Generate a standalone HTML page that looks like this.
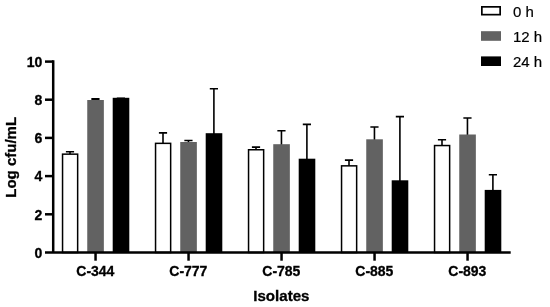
<!DOCTYPE html>
<html><head><meta charset="utf-8"><title>Isolates</title>
<style>html,body{margin:0;padding:0;background:#fff}svg{display:block}text{font-family:"Liberation Sans",Arial,sans-serif;fill:#000}</style></head><body>
<svg width="550" height="307" viewBox="0 0 550 307">
<rect width="550" height="307" fill="#fff"/>
<path d="M65.90 151.75H74.10M70.00 151.75V154.40" stroke="#000" stroke-width="1.6" fill="none"/>
<rect x="62.55" y="154.15" width="15.10" height="98.35" fill="#fff" stroke="#000" stroke-width="1.5"/>
<path d="M91.35 99.00H99.55M95.45 99.00V101.00" stroke="#000" stroke-width="2.0" fill="none"/>
<rect x="87.25" y="100.00" width="16.60" height="152.50" fill="#626262"/>
<path d="M116.80 98.25H125.00M120.90 98.25V98.80" stroke="#000" stroke-width="1.6" fill="none"/>
<rect x="112.70" y="97.80" width="16.60" height="154.70" fill="#000"/>
<path d="M158.90 132.85H167.10M163.00 132.85V143.60" stroke="#000" stroke-width="1.6" fill="none"/>
<rect x="155.55" y="143.35" width="15.10" height="109.15" fill="#fff" stroke="#000" stroke-width="1.5"/>
<path d="M184.35 140.50H192.55M188.45 140.50V143.00" stroke="#000" stroke-width="1.6" fill="none"/>
<rect x="180.25" y="142.00" width="16.60" height="110.50" fill="#626262"/>
<path d="M209.80 88.80H218.00M213.90 88.80V134.20" stroke="#000" stroke-width="1.6" fill="none"/>
<rect x="205.70" y="133.20" width="16.60" height="119.30" fill="#000"/>
<path d="M251.90 147.10H260.10M256.00 147.10V150.00" stroke="#000" stroke-width="1.6" fill="none"/>
<rect x="248.55" y="149.75" width="15.10" height="102.75" fill="#fff" stroke="#000" stroke-width="1.5"/>
<path d="M277.35 130.70H285.55M281.45 130.70V145.20" stroke="#000" stroke-width="1.6" fill="none"/>
<rect x="273.25" y="144.20" width="16.60" height="108.30" fill="#626262"/>
<path d="M302.80 124.35H311.00M306.90 124.35V159.70" stroke="#000" stroke-width="1.6" fill="none"/>
<rect x="298.70" y="158.70" width="16.60" height="93.80" fill="#000"/>
<path d="M344.90 160.10H353.10M349.00 160.10V166.10" stroke="#000" stroke-width="1.6" fill="none"/>
<rect x="341.55" y="165.85" width="15.10" height="86.65" fill="#fff" stroke="#000" stroke-width="1.5"/>
<path d="M370.35 127.00H378.55M374.45 127.00V140.30" stroke="#000" stroke-width="1.6" fill="none"/>
<rect x="366.25" y="139.30" width="16.60" height="113.20" fill="#626262"/>
<path d="M395.80 116.60H404.00M399.90 116.60V181.30" stroke="#000" stroke-width="1.6" fill="none"/>
<rect x="391.70" y="180.30" width="16.60" height="72.20" fill="#000"/>
<path d="M437.90 139.70H446.10M442.00 139.70V145.80" stroke="#000" stroke-width="1.6" fill="none"/>
<rect x="434.55" y="145.55" width="15.10" height="106.95" fill="#fff" stroke="#000" stroke-width="1.5"/>
<path d="M463.35 118.00H471.55M467.45 118.00V135.50" stroke="#000" stroke-width="1.6" fill="none"/>
<rect x="459.25" y="134.50" width="16.60" height="118.00" fill="#626262"/>
<path d="M488.80 174.80H497.00M492.90 174.80V190.90" stroke="#000" stroke-width="1.6" fill="none"/>
<rect x="484.70" y="189.90" width="16.60" height="62.60" fill="#000"/>
<path d="M53.2 60.2V252.5M45 252.5H510.7" stroke="#000" stroke-width="2.5" fill="none"/>
<text x="42.3" y="257.70" font-size="14" font-weight="bold" text-anchor="end" stroke="#000" stroke-width="0.3">0</text>
<path d="M45 214.30H53.2" stroke="#000" stroke-width="2.5"/>
<text x="42.3" y="219.50" font-size="14" font-weight="bold" text-anchor="end" stroke="#000" stroke-width="0.3">2</text>
<path d="M45 176.10H53.2" stroke="#000" stroke-width="2.5"/>
<text x="42.3" y="181.30" font-size="14" font-weight="bold" text-anchor="end" stroke="#000" stroke-width="0.3">4</text>
<path d="M45 137.90H53.2" stroke="#000" stroke-width="2.5"/>
<text x="42.3" y="143.10" font-size="14" font-weight="bold" text-anchor="end" stroke="#000" stroke-width="0.3">6</text>
<path d="M45 99.70H53.2" stroke="#000" stroke-width="2.5"/>
<text x="42.3" y="104.90" font-size="14" font-weight="bold" text-anchor="end" stroke="#000" stroke-width="0.3">8</text>
<path d="M45 61.60H53.2" stroke="#000" stroke-width="2.5"/>
<text x="42.3" y="66.80" font-size="14" font-weight="bold" text-anchor="end" stroke="#000" stroke-width="0.3">10</text>
<path d="M95.55 252.5V260.7" stroke="#000" stroke-width="2.5"/>
<text x="95.35" y="276.3" font-size="14" stroke="#000" stroke-width="0.3" font-weight="bold" text-anchor="middle">C-344</text>
<path d="M188.55 252.5V260.7" stroke="#000" stroke-width="2.5"/>
<text x="188.35" y="276.3" font-size="14" stroke="#000" stroke-width="0.3" font-weight="bold" text-anchor="middle">C-777</text>
<path d="M281.55 252.5V260.7" stroke="#000" stroke-width="2.5"/>
<text x="281.35" y="276.3" font-size="14" stroke="#000" stroke-width="0.3" font-weight="bold" text-anchor="middle">C-785</text>
<path d="M374.55 252.5V260.7" stroke="#000" stroke-width="2.5"/>
<text x="374.35" y="276.3" font-size="14" stroke="#000" stroke-width="0.3" font-weight="bold" text-anchor="middle">C-885</text>
<path d="M467.55 252.5V260.7" stroke="#000" stroke-width="2.5"/>
<text x="467.35" y="276.3" font-size="14" stroke="#000" stroke-width="0.3" font-weight="bold" text-anchor="middle">C-893</text>
<text x="281.4" y="300.85" font-size="15.1" stroke="#000" stroke-width="0.3" font-weight="bold" text-anchor="middle">Isolates</text>
<text transform="translate(15.8 157.3) rotate(-90)" font-size="15" stroke="#000" stroke-width="0.3" font-weight="bold" text-anchor="middle">Log cfu/mL</text>
<rect x="481.85" y="6.85" width="18.3" height="7.8" fill="#fff" stroke="#000" stroke-width="1.7"/>
<rect x="481" y="31.2" width="20" height="9.6" fill="#626262"/>
<rect x="481" y="56.4" width="20" height="9.6" fill="#000"/>
<text x="513.0" y="16.5" font-size="15" stroke="#000" stroke-width="0.2">0 h</text>
<text x="513.0" y="41.7" font-size="15" stroke="#000" stroke-width="0.2">12 h</text>
<text x="513.0" y="66.9" font-size="15" stroke="#000" stroke-width="0.2">24 h</text>
</svg></body></html>
